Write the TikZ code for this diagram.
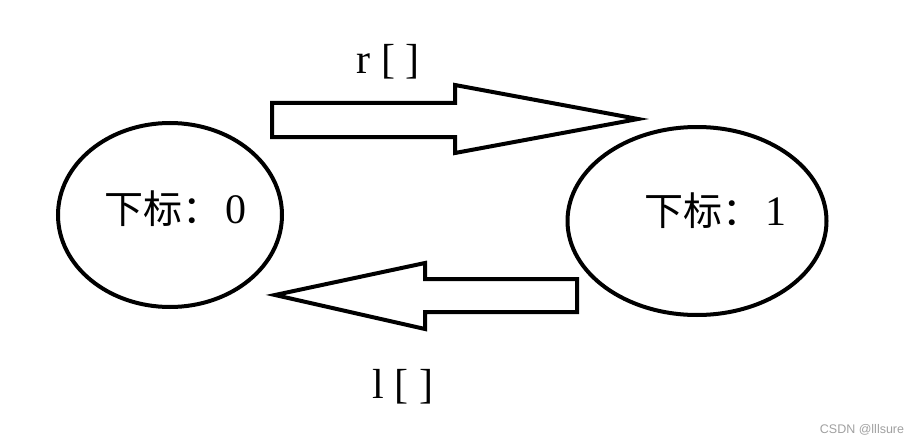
\documentclass[tikz,border=0pt]{standalone}
\usepackage{fontspec}
\setmainfont{Liberation Serif}
\setsansfont{Liberation Sans}
\newfontfamily\cjkfont{Noto Sans CJK SC}
\newfontfamily\lblfont[LetterSpace=25]{Liberation Serif}
\usepackage{xcolor}
\usetikzlibrary{shapes.geometric, positioning}
\definecolor{markgray}{HTML}{A0A0A0}
\tikzstyle{state}=[ellipse, draw, line width=4pt, inner sep=0pt]
\tikzstyle{blockarrow}=[draw, line width=4pt, line join=miter]
\tikzstyle{idx}=[font=\fontsize{39pt}{42pt}\selectfont]
\tikzstyle{lbl}=[font=\lblfont\fontsize{42pt}{46pt}\selectfont]

\begin{document}
\begin{tikzpicture}[x=1pt, y=-1pt]

\tikzset{every node/.style={inner sep=0pt}}

\useasboundingbox (0,0) rectangle (919,444);

% the two index states
\node[state, minimum width=224pt, minimum height=184pt] (s0) at (170,215) {};
\node[state, minimum width=259pt, minimum height=188pt] (s1) at (697,221) {};
\node[idx] (t0) at (175,209) {\cjkfont 下标：\hspace{4pt}\rmfamily\fontsize{42pt}{44pt}\selectfont 0};
\node[idx] (t1) at (715,211) {\cjkfont 下标：\hspace{4pt}\rmfamily\fontsize{42pt}{44pt}\selectfont 1};

% block arrows
\draw[blockarrow] (272,103) -- (455,103) -- (455,85) -- (638,119)
  -- (455,153) -- (455,137) -- (272,137) -- cycle; % 0 -> 1
\draw[blockarrow] (577,279) -- (425,279) -- (425,263) -- (275,295)
  -- (425,329) -- (425,312) -- (577,312) -- cycle; % 1 -> 0

% arrow labels
\node[lbl] (rlab) at (388,62) {r[]};
\node[lbl] (llab) at (403,387) {l[]};

% watermark
\node[font=\sffamily\fontsize{12.5pt}{14pt}\selectfont, text=markgray] (mark) at (862,430) {CSDN @lllsure};

\end{tikzpicture}
\end{document}
